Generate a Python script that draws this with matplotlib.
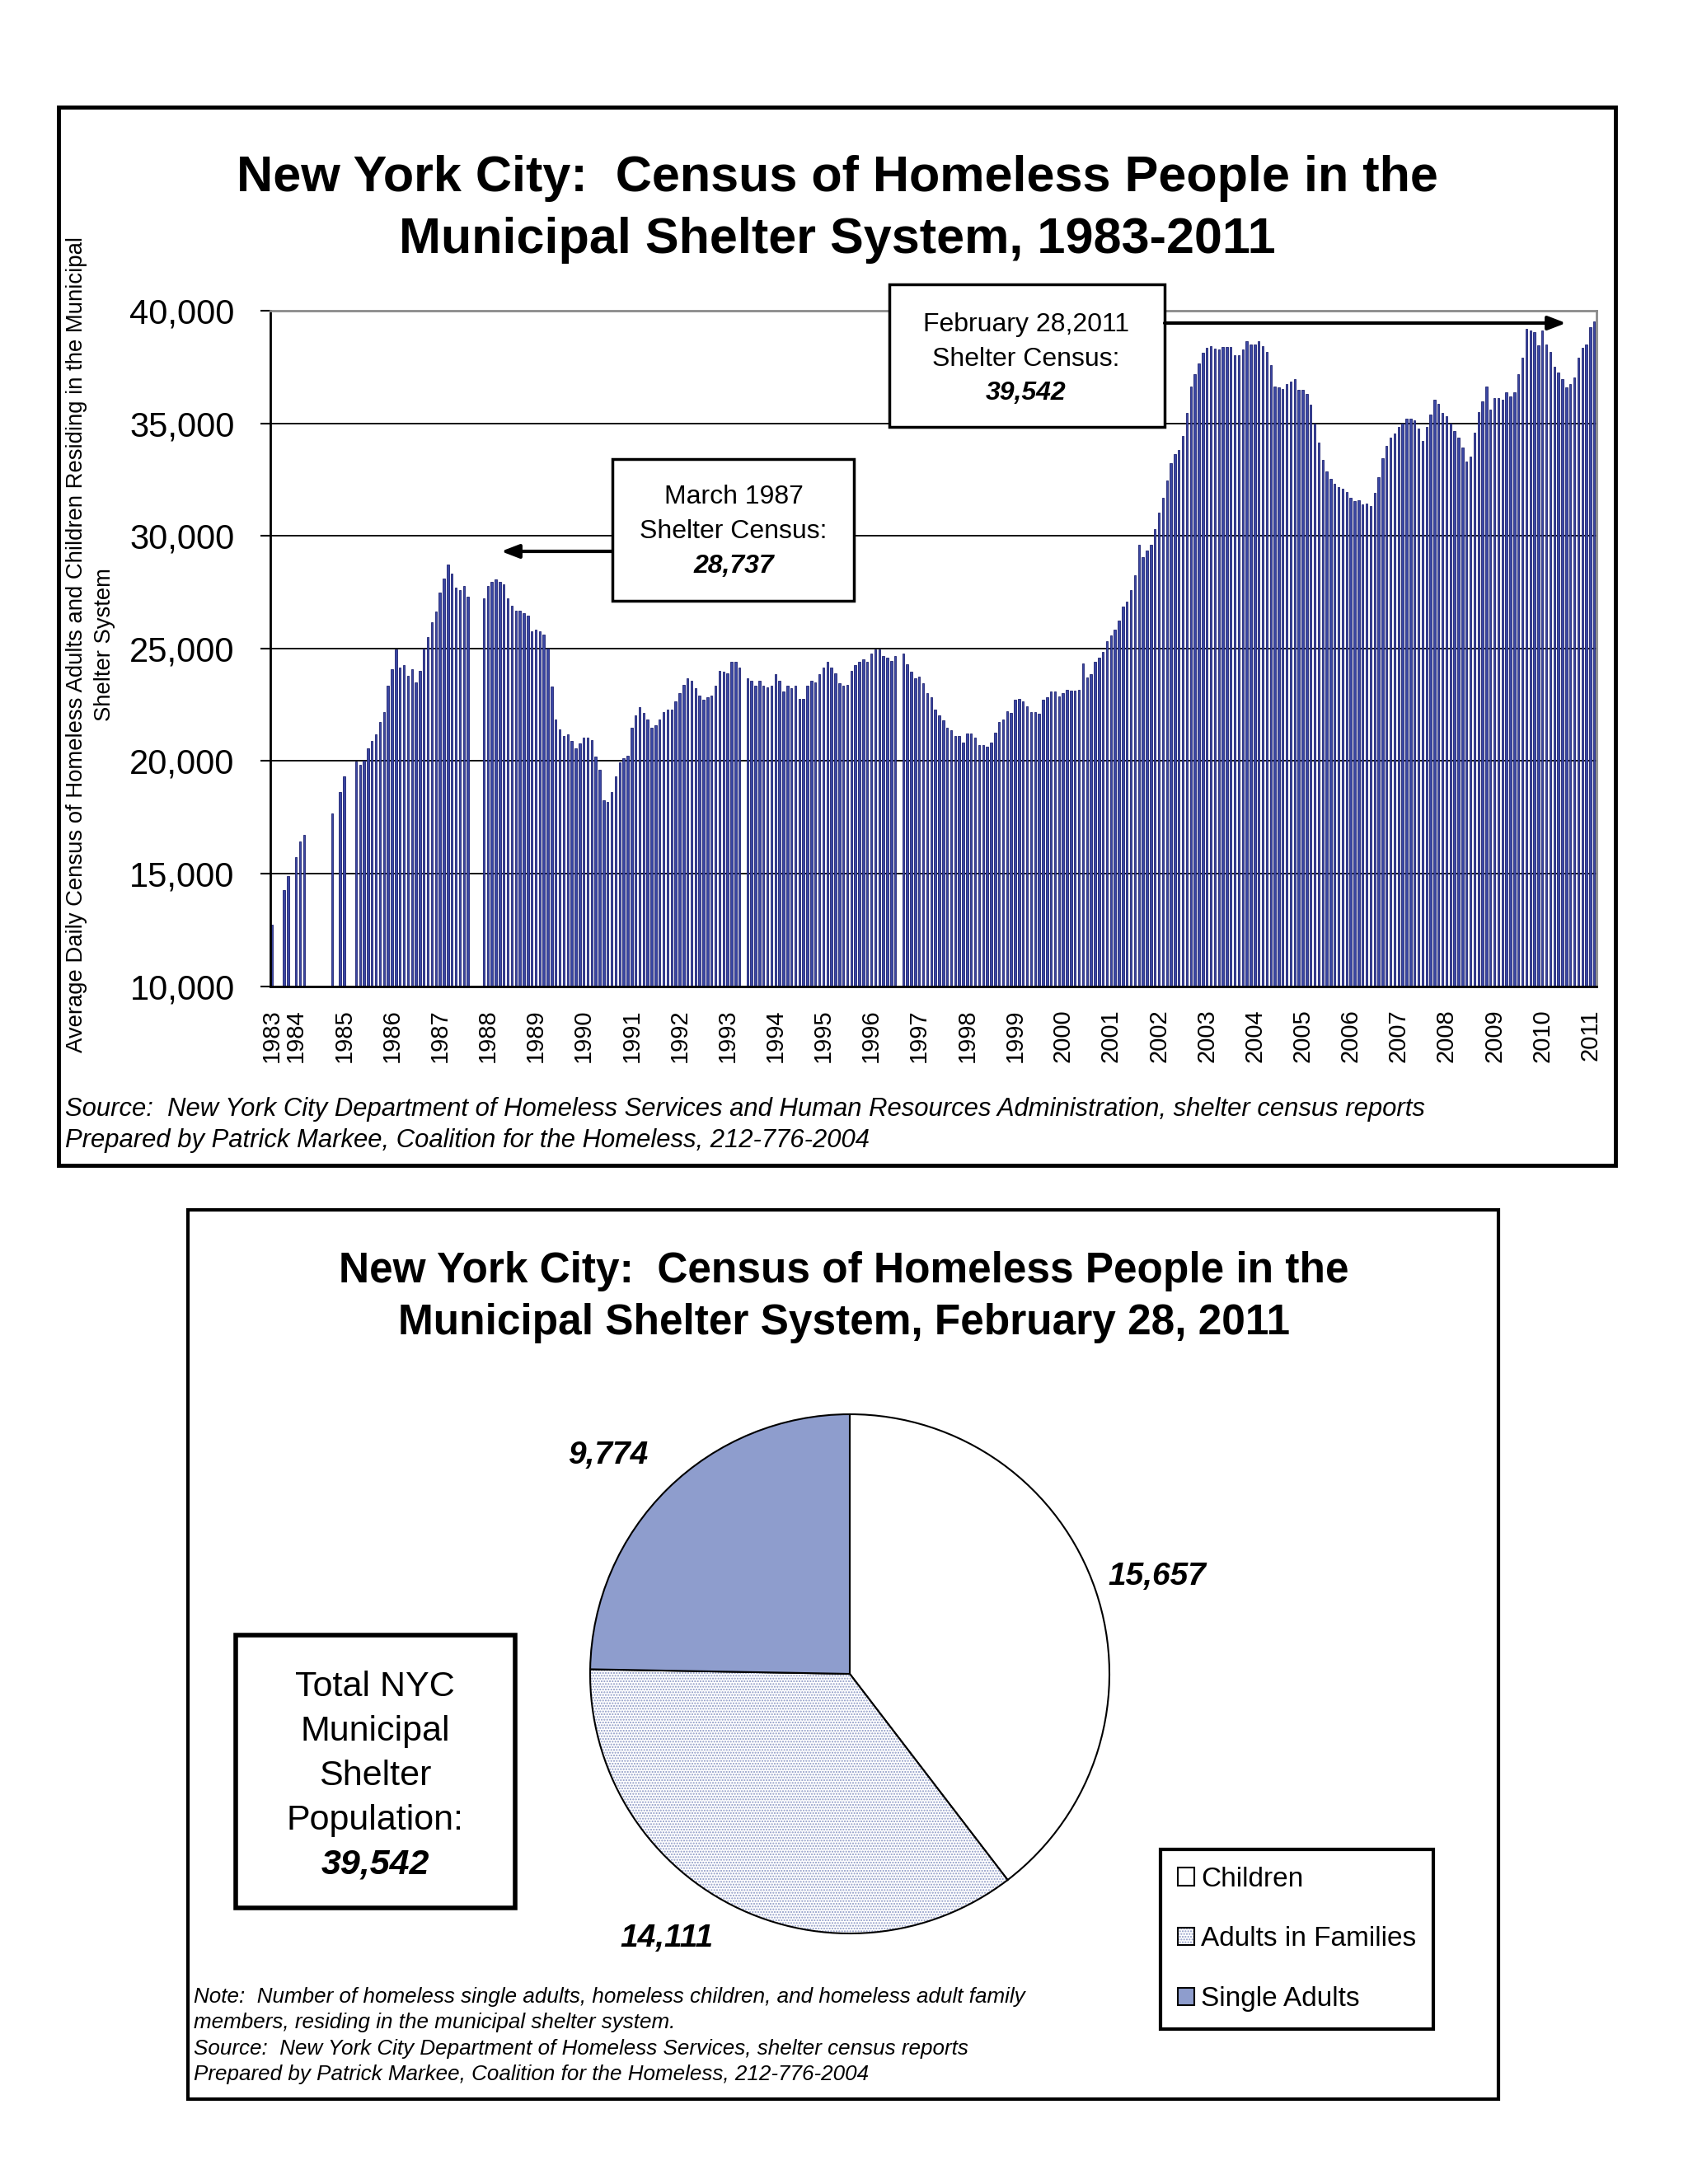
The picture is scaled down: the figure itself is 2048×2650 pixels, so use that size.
import numpy as np
import matplotlib.pyplot as plt
import matplotlib.colors as mcolors
from matplotlib.patches import Rectangle, FancyArrowPatch
from matplotlib.ticker import FuncFormatter

plt.rcParams['font.family'] = ['Liberation Sans', 'DejaVu Sans']

W, H = 2048, 2650

# average daily shelter census, one value per month, Jul 1983 .. Feb 2011
# (None = no report for that month)
census = [
    # 1983 (Jul-Dec)
    12730, None, None, 14270, 14900, None,
    # 1984
    15730, 16420, 16710, None, None, None, None, None, None, 17670, None, 18640,
    # 1985
    19330, None, None, 19980, 19850, 20020, 20580, 20890, 21180, 21730, 22160, 23330,
    # 1986
    24090, 24950, 24160, 24270, 23780, 24090, 23490, 24000, 25000, 25490, 26160, 26640,
    # 1987
    27470, 28090, 28737, 28310, 27690, 27600, 27760, 27310, None, None, None, 27220,
    # 1988
    27760, 27950, 28070, 27950, 27840, 27220, 26910, 26670, 26690, 26550, 26450, 25780,
    # 1989
    25850, 25780, 25620, 25000, 23310, 21850, 21420, 21130, 21180, 20890, 20580, 20800,
    # 1990
    21040, 21040, 20950, 20200, 19600, 18270, 18200, 18640, 19330, 19950, 20130, 20240,
    # 1991
    21490, 22040, 22400, 22130, 21850, 21490, 21580, 21850, 22160, 22270, 22300, 22670,
    # 1992
    23000, 23400, 23690, 23580, 23240, 22910, 22730, 22820, 22910, 23360, 24000, 23960,
    # 1993
    23910, 24400, 24400, 24150, None, 23690, 23580, 23330, 23580, 23330, 23270, 23330,
    # 1994
    23850, 23580, 23090, 23330, 23240, 23330, 22780, 22780, 23330, 23580, 23490, 23850,
    # 1995
    24150, 24400, 24150, 23910, 23450, 23360, 23400, 24000, 24270, 24400, 24530, 24400,
    # 1996
    24760, 24950, 24950, 24670, 24600, 24450, 24670, None, 24760, 24310, 23960, 23670,
    # 1997
    23760, 23450, 23000, 22850, 22270, 22040, 21820, 21490, 21360, 21130, 21130, 20820,
    # 1998
    21240, 21240, 21040, 20730, 20730, 20640, 20820, 21270, 21730, 21850, 22220, 22150,
    # 1999
    22730, 22760, 22640, 22450, 22180, 22180, 22090, 22730, 22850, 23090, 23090, 22870,
    # 2000
    23000, 23150, 23130, 23130, 23180, 24330, 23730, 23850, 24400, 24580, 24850, 25310,
    # 2001
    25580, 25850, 26240, 26850, 27090, 27600, 28240, 29600, 29050, 29360, 29600, 30310,
    # 2002
    31040, 31690, 32450, 33220, 33640, 33820, 34450, 35450, 36640, 37180, 37640, 38130,
    # 2003
    38360, 38420, 38310, 38270, 38400, 38380, 38400, 38040, 38040, 38270, 38640, 38510,
    # 2004
    38510, 38640, 38420, 38180, 37580, 36640, 36580, 36510, 36730, 36870, 36960, 36490,
    # 2005
    36490, 36310, 35820, 35000, 34130, 33360, 32850, 32550, 32310, 32150, 32090, 31950,
    # 2006
    31690, 31550, 31580, 31400, 31450, 31310, 31910, 32600, 33450, 34000, 34360, 34550,
    # 2007
    34850, 35000, 35220, 35220, 35130, 34760, 34220, 34850, 35400, 36050, 35850, 35450,
    # 2008
    35310, 35000, 34640, 34360, 33910, 33310, 33510, 34600, 35510, 35960, 36640, 35600,
    # 2009
    36130, 36130, 36050, 36360, 36180, 36360, 37180, 37910, 39180, 39130, 39040, 38450,
    # 2010
    39130, 38510, 38180, 37510, 37270, 36960, 36600, 36760, 37050, 37910, 38360, 38510,
    # 2011 (Jan-Feb)
    39250, 39542,
]
first_year, first_month = 1983, 7
years = list(range(1983, 2012))

pie_labels = ["Children", "Adults in Families", "Single Adults"]
pie_values = [15657, 14111, 9774]
pie_total = 39542


def fx(px):
    return px / W


def fy(py):
    return 1 - py / H


def frame(x0, y0, x1, y1, lw):
    fig.add_artist(Rectangle((fx(x0), fy(y1)), (x1 - x0) / W, (y1 - y0) / H,
                             transform=fig.transFigure, fill=False,
                             ec='black', lw=lw))


def arrow(x0, x1, y):
    fig.add_artist(FancyArrowPatch((fx(x0), fy(y)), (fx(x1), fy(y)),
                                   transform=fig.transFigure,
                                   arrowstyle='-|>,head_length=1.3,head_width=0.5',
                                   mutation_scale=10, lw=3, color='black',
                                   shrinkA=0, shrinkB=0))


fig = plt.figure(figsize=(W / 100, H / 100), dpi=100)

# ---------------- top chart ----------------
frame(71, 130, 1960, 1414, 3.5)
fig.text(fx(1016), fy(254),
         "New York City:  Census of Homeless People in the\n"
         "Municipal Shelter System, 1983-2011",
         ha='center', va='center', fontsize=44, fontweight='bold',
         linespacing=1.43)

ax = fig.add_axes([fx(327.7), fy(1196.7), (1936.7 - 327.7) / W, (1196.7 - 377) / H])
vals = np.array([np.nan if v is None else v for v in census], dtype=float)
idx = np.arange(len(vals))
ok = ~np.isnan(vals)
ax.bar(idx[ok], vals[ok], width=0.5, color='#3A47A3', edgecolor='#1E2270', lw=0.6)

ax.set_xlim(-0.5, len(vals) - 0.5)
ax.set_ylim(10000, 40000)
ax.set_yticks(range(10000, 40001, 5000))
ax.yaxis.set_major_formatter(FuncFormatter(lambda v, p: f'{v:,.0f}'))
ax.tick_params(axis='y', labelsize=30, length=9, width=1.5, pad=22)
ax.set_axisbelow(True)
ax.yaxis.grid(True, color='black', lw=1.3)

tick_pos = [max(0, (y - first_year) * 12 + 1 - first_month) for y in years]
ax.set_xticks(tick_pos)
ax.set_xticklabels([str(y) for y in years], rotation=90, fontsize=21)
ax.tick_params(axis='x', length=0, pad=20)

for s in ('left', 'bottom'):
    ax.spines[s].set_color('black')
    ax.spines[s].set_linewidth(2)
for s in ('top', 'right'):
    ax.spines[s].set_color('#8a8a8a')
    ax.spines[s].set_linewidth(2)

fig.text(fx(110), fy(782),
         "Average Daily Census of Homeless Adults and Children Residing in the Municipal\n"
         "Shelter System",
         rotation=90, ha='center', va='center', fontsize=19.8,
         multialignment='center', linespacing=1.4)

# March 1987 annotation
fig.add_artist(Rectangle((fx(743), fy(729)), (1036 - 743) / W, (729 - 557) / H,
                         transform=fig.transFigure, fc='white', ec='black', lw=2.5))
fig.text(fx(890), fy(624), "March 1987\nShelter Census:", ha='center', va='center',
         fontsize=23, linespacing=1.54)
fig.text(fx(890), fy(687), f"{census[(1987 - first_year) * 12 + 3 - first_month]:,}",
         ha='center', va='center', fontsize=23, fontweight='bold', style='italic')
arrow(743, 608, 669)

# February 2011 annotation
fig.add_artist(Rectangle((fx(1079), fy(518)), (1413 - 1079) / W, (518 - 345) / H,
                         transform=fig.transFigure, fc='white', ec='black', lw=2.5))
fig.text(fx(1245), fy(415), "February 28,2011\nShelter Census:", ha='center',
         va='center', fontsize=23, linespacing=1.54)
fig.text(fx(1245), fy(477), f"{census[-1]:,}", ha='center', va='center',
         fontsize=23, fontweight='bold', style='italic')
arrow(1413, 1900, 392)

fig.text(fx(79), fy(1365),
         "Source:  New York City Department of Homeless Services and Human Resources "
         "Administration, shelter census reports\n"
         "Prepared by Patrick Markee, Coalition for the Homeless, 212-776-2004",
         ha='left', va='center', fontsize=22.3, style='italic', linespacing=1.36)

# ---------------- bottom chart ----------------
frame(228, 1468, 1818, 2547, 3)
fig.text(fx(1024), fy(1574),
         "New York City:  Census of Homeless People in the\n"
         "Municipal Shelter System, February 28, 2011",
         ha='center', va='center', fontsize=37, fontweight='bold', linespacing=1.36)

cx, cy, r = 1031, 2031, 315
pax = fig.add_axes([fx(cx - r), fy(cy + r), 2 * r / W, 2 * r / H])
wedges, _ = pax.pie(pie_values, colors=['white', 'white', '#8E9DCD'],
                    startangle=90, counterclock=False,
                    wedgeprops=dict(edgecolor='black', lw=1.5))
wedges[1].set_hatch('.....')
wedges[1]._hatch_color = mcolors.to_rgba('#8C98C4')
pax.set_xlim(-1, 1)
pax.set_ylim(-1, 1)
pax.set_aspect('auto')
pax.axis('off')

lab_pos = [(1404, 1913), (809, 2352), (738, 1766)]
for (px, py), v in zip(lab_pos, pie_values):
    fig.text(fx(px), fy(py), f"{v:,}", ha='center', va='center', fontsize=28,
             fontweight='bold', style='italic')

frame(286, 1984, 625, 2315, 4)
fig.text(fx(455), fy(2128), "Total NYC\nMunicipal\nShelter\nPopulation:",
         ha='center', va='center', fontsize=31, linespacing=1.45)
fig.text(fx(455), fy(2262), f"{pie_total:,}", ha='center', va='center',
         fontsize=31, fontweight='bold', style='italic')

leg = fig.legend(wedges, pie_labels, loc='upper left',
                 bbox_to_anchor=(fx(1408), fy(2244)), borderaxespad=0,
                 frameon=True, fancybox=False, edgecolor='black', fontsize=24,
                 handlelength=0.6, handleheight=0.6, handletextpad=0.25,
                 borderpad=0.62, labelspacing=1.25)
leg.get_frame().set_linewidth(3)
leg.get_frame().set_alpha(1)

fig.text(fx(235), fy(2470),
         "Note:  Number of homeless single adults, homeless children, and homeless adult family\n"
         "members, residing in the municipal shelter system.\n"
         "Source:  New York City Department of Homeless Services, shelter census reports\n"
         "Prepared by Patrick Markee, Coalition for the Homeless, 212-776-2004",
         ha='left', va='center', fontsize=18.7, style='italic', linespacing=1.4)

fig.savefig('out.png', dpi=100, facecolor='white')
